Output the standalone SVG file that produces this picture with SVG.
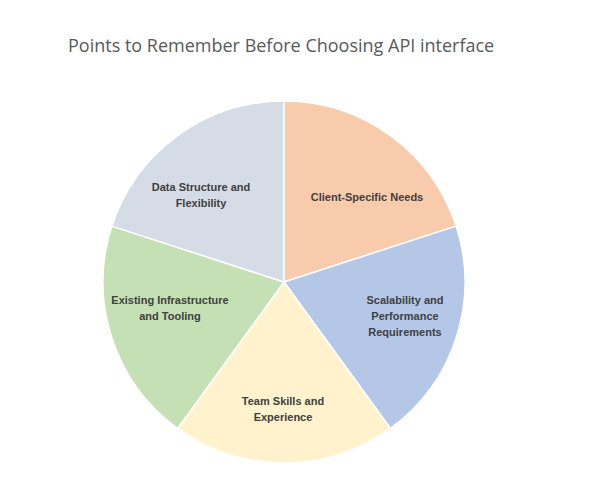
<svg xmlns="http://www.w3.org/2000/svg" width="608" height="485" viewBox="0 0 608 485">
<style>
.s{stroke:#fff;stroke-width:1.5}
.l{font-family:"Liberation Sans",Arial,sans-serif;font-size:11px;font-weight:bold;fill:#404040;text-anchor:middle}
.t{font-family:"Open Sans","Liberation Sans",sans-serif;font-size:18px;fill:#595959}
</style>
<rect width="608" height="485" fill="#fff"/>
<text class="t" x="68" y="52">Points to Remember Before Choosing API interface</text>
<g id="connectors"></g>
<g id="n1"><path class="s" fill="#F8CBAD" d="M284,282 L284,101 A181,181 0 0 1 456.1,226.1 Z"/><text class="l" x="367" y="201">Client-Specific Needs</text></g>
<g id="n2"><path class="s" fill="#B4C7E7" d="M284,282 L456.1,226.1 A181,181 0 0 1 390.4,428.4 Z"/><text class="l" x="405" y="304">Scalability and</text><text class="l" x="405" y="320">Performance</text><text class="l" x="405" y="336">Requirements</text></g>
<g id="n3"><path class="s" fill="#FFF2CC" d="M284,282 L390.4,428.4 A181,181 0 0 1 177.6,428.4 Z"/><text class="l" x="283" y="405">Team Skills and</text><text class="l" x="283" y="421">Experience</text></g>
<g id="n4"><path class="s" fill="#C5E0B4" d="M284,282 L177.6,428.4 A181,181 0 0 1 111.9,226.1 Z"/><text class="l" x="170" y="304">Existing Infrastructure</text><text class="l" x="170" y="320">and Tooling</text></g>
<g id="n5"><path class="s" fill="#D6DCE5" d="M284,282 L111.9,226.1 A181,181 0 0 1 284,101 Z"/><text class="l" x="201" y="191">Data Structure and</text><text class="l" x="201" y="207">Flexibility</text></g>
</svg>
